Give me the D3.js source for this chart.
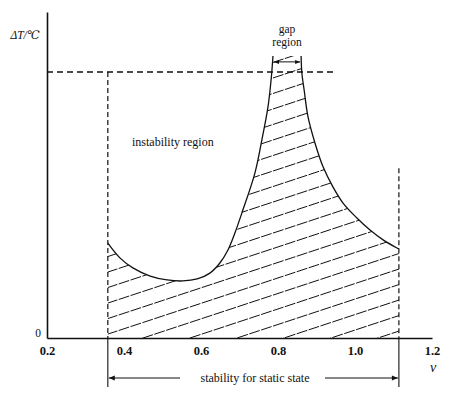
<!DOCTYPE html>
<html><head><meta charset="utf-8">
<script src="https://cdn.jsdelivr.net/npm/d3@7"></script>
<style>
body{margin:0;background:#fff;}
text{font-family:"Liberation Serif","DejaVu Serif",serif;fill:#111;}
</style></head>
<body>
<svg id="c" width="474" height="397"></svg>
<script>
// ---- data ----
const xTicks = [0.2, 0.4, 0.6, 0.8, 1.0, 1.2];
const yTicks = [0];
// lower / left branch of the boundary curve (nu, dT)
const leftNu = [0.358,0.390,0.423,0.468,0.512,0.553,0.590,0.623,0.649,0.670,0.688,0.706,0.740,0.758,0.774,0.782,0.787];
const leftDT = [2.91,2.45,2.15,1.90,1.78,1.75,1.81,1.99,2.30,2.70,3.22,3.83,5.06,6.07,7.09,7.91,8.65];
// right branch
const rightNu = [0.860,0.862,0.868,0.878,0.896,0.917,0.943,0.969,1.005,1.039,1.073,1.109,1.114];
const rightDT = [8.65,8.13,7.60,6.78,5.98,5.25,4.63,4.14,3.68,3.31,3.01,2.76,2.73];
const nuLeftBound = 0.358, nuRightBound = 1.114;
const dTDashed = 8.16, nuDashedEnd = 0.948, dTRightTop = 5.21;
const dTGapArrow = 8.47;
const labels = {y:"ΔT/℃", x:"ν", instab:"instability region", gap1:"gap", gap2:"region", stab:"stability for static state"};

// ---- scales ----
const svg = d3.select("#c");
const x = d3.scaleLinear().domain([0.2,1.2]).range([47,432]);
const y = d3.scaleLinear().domain([0,10]).range([338,12]);
const ink = "#111";

const defs = svg.append("defs");
["s","e"].forEach(k=>{
  defs.append("marker").attr("id","ar"+k).attr("viewBox","0 0 10 10").attr("refX",10).attr("refY",5)
    .attr("markerWidth",7).attr("markerHeight",5).attr("orient", k==="e"?"auto":"auto-start-reverse")
    .append("path").attr("d","M0,1L10,5L0,9Z").attr("fill",ink);
});

const leftPts = leftNu.map((v,i)=>[v,leftDT[i]]);
const rightPts = rightNu.map((v,i)=>[v,rightDT[i]]);
const lineGen = d3.line().x(d=>x(d[0])).y(d=>y(d[1])).curve(d3.curveCatmullRom.alpha(0.5));
const rightPath = lineGen(rightPts).replace(/^M/,"L");
defs.append("clipPath").attr("id","clipA").append("path")
  .attr("d", lineGen(leftPts) + rightPath
        + "L" + x(nuRightBound)+","+y(0) + "L" + x(nuLeftBound)+","+y(0)+"Z");

// hatch lines
const hg = svg.append("g").attr("clip-path","url(#clipA)");
const slope = 0.33, step = 47, x0 = 143;
for (let k=-25; k<8; k++){
  const xa = x0 + k*step;
  hg.append("line").attr("x1",0).attr("y1",y(0)+xa*slope).attr("x2",474).attr("y2",y(0)-(474-xa)*slope)
    .attr("stroke",ink).attr("stroke-width",1).attr("stroke-dasharray","11,1.5");
}

// curves
svg.append("path").attr("d",lineGen(leftPts)).attr("fill","none").attr("stroke",ink).attr("stroke-width",1.3);
svg.append("path").attr("d",lineGen(rightPts)).attr("fill","none").attr("stroke",ink).attr("stroke-width",1.3);

// dashed lines
svg.append("line").attr("x1",x(0.2)).attr("x2",x(nuDashedEnd)).attr("y1",y(dTDashed)).attr("y2",y(dTDashed))
  .attr("stroke",ink).attr("stroke-width",1.4).attr("stroke-dasharray","6,4");
svg.append("line").attr("x1",x(nuLeftBound)).attr("x2",x(nuLeftBound)).attr("y1",y(dTDashed)).attr("y2",y(0))
  .attr("stroke",ink).attr("stroke-width",1.2).attr("stroke-dasharray","5,3");
svg.append("line").attr("x1",x(nuRightBound)).attr("x2",x(nuRightBound)).attr("y1",y(dTRightTop)).attr("y2",y(0))
  .attr("stroke",ink).attr("stroke-width",1.2).attr("stroke-dasharray","5,3");
[nuLeftBound,nuRightBound].forEach(v=>{
  svg.append("line").attr("x1",x(v)).attr("x2",x(v)).attr("y1",y(0)).attr("y2",y(0)+49)
    .attr("stroke",ink).attr("stroke-width",1.1);
});

// gap arrow
svg.append("line").attr("x1",x(leftNu[leftNu.length-1])+1).attr("x2",x(rightNu[0])-1)
  .attr("y1",y(dTGapArrow)).attr("y2",y(dTGapArrow)).attr("stroke",ink).attr("stroke-width",1)
  .attr("marker-start","url(#ars)").attr("marker-end","url(#are)");

// axes
const xAxis = d3.axisBottom(x).tickValues(xTicks).tickSize(0).tickPadding(8).tickFormat(d3.format(".1f"));
const gx = svg.append("g").attr("transform",`translate(0,${y(0)})`).call(xAxis);
gx.select(".domain").attr("stroke",ink).attr("stroke-width",1.6);
gx.selectAll("text").attr("font-size",12.5).attr("font-weight","bold").attr("font-family","Liberation Serif, serif").attr("fill",ink);
const yAxis = d3.axisLeft(y).tickValues(yTicks).tickSize(0).tickPadding(6).tickFormat(d3.format("d"));
const gy = svg.append("g").attr("transform",`translate(${x(0.2)},0)`).call(yAxis);
gy.select(".domain").attr("stroke",ink).attr("stroke-width",1.6);
gy.selectAll("text").attr("font-size",11.5).attr("dy","-0.1em").attr("font-family","Liberation Serif, serif").attr("fill",ink);

// labels
svg.append("text").attr("x",25).attr("y",39).attr("text-anchor","middle").attr("font-size",11.5).attr("font-style","italic").text(labels.y);
svg.append("text").attr("x",433).attr("y",372).attr("text-anchor","middle").attr("font-size",14).attr("font-style","italic").text(labels.x);
svg.append("text").attr("x",132).attr("y",146).attr("font-size",12).text(labels.instab);
svg.append("text").attr("x",x(0.8235)).attr("y",33).attr("text-anchor","middle").attr("font-size",11.5).text(labels.gap1);
svg.append("text").attr("x",x(0.8235)).attr("y",46).attr("text-anchor","middle").attr("font-size",11.5).text(labels.gap2);
svg.append("text").attr("x",255).attr("y",382).attr("text-anchor","middle").attr("font-size",12).text(labels.stab);
// stability arrows
svg.append("line").attr("x1",180).attr("x2",x(nuLeftBound)+1).attr("y1",378).attr("y2",378)
  .attr("stroke",ink).attr("stroke-width",1.2).attr("marker-end","url(#are)");
svg.append("line").attr("x1",325).attr("x2",x(nuRightBound)-1).attr("y1",378).attr("y2",378)
  .attr("stroke",ink).attr("stroke-width",1.2).attr("marker-end","url(#are)");
</script>
</body></html>
